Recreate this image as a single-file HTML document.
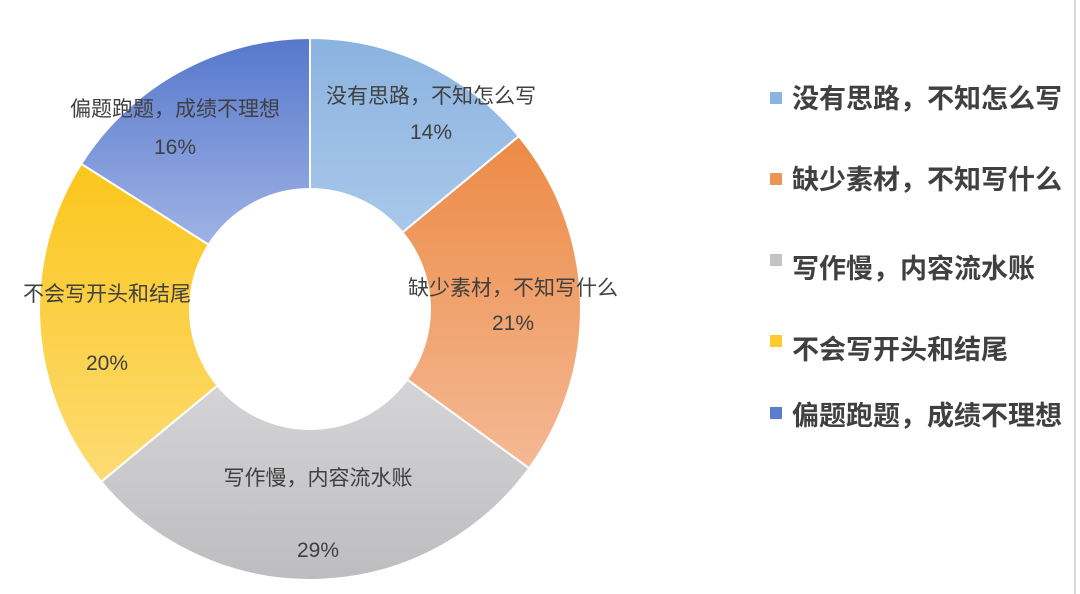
<!DOCTYPE html>
<html><head><meta charset="utf-8"><style>
body{margin:0;background:#fff;}
svg{display:block;}
text{font-family:"Liberation Sans","Noto Sans CJK SC",sans-serif;}
</style></head><body>
<svg width="1080" height="594" viewBox="0 0 1080 594">
<defs>
<linearGradient id="g1" x1="0" y1="0" x2="0" y2="1"><stop offset="0" stop-color="#8bb3e0"/><stop offset="1" stop-color="#a9c8ea"/></linearGradient>
<linearGradient id="g2" x1="0" y1="0" x2="0" y2="1"><stop offset="0" stop-color="#ec8a45"/><stop offset="1" stop-color="#f4b994"/></linearGradient>
<linearGradient id="g3" x1="0" y1="0" x2="0" y2="1"><stop offset="0" stop-color="#d5d5d7"/><stop offset="1" stop-color="#bdbdbf"/></linearGradient>
<linearGradient id="g4" x1="0" y1="0" x2="0" y2="1"><stop offset="0" stop-color="#fbc61c"/><stop offset="1" stop-color="#fcdb72"/></linearGradient>
<linearGradient id="g5" x1="0" y1="0" x2="0" y2="1"><stop offset="0" stop-color="#5677cc"/><stop offset="1" stop-color="#9fb3e4"/></linearGradient>
</defs>
<g stroke="#fff" stroke-width="2">
<path d="M310,38 A271,271 0 0 1 518.8,136.3 L402.5,232.5 A120,120 0 0 0 310,189 Z" fill="url(#g1)"/>
<path d="M518.8,136.3 A271,271 0 0 1 529.2,468.3 L407.1,379.5 A120,120 0 0 0 402.5,232.5 Z" fill="url(#g2)"/>
<path d="M529.2,468.3 A271,271 0 0 1 101.2,481.7 L217.5,385.5 A120,120 0 0 0 407.1,379.5 Z" fill="url(#g3)"/>
<path d="M101.2,481.7 A271,271 0 0 1 81.2,163.8 L208.7,244.7 A120,120 0 0 0 217.5,385.5 Z" fill="url(#g4)"/>
<path d="M81.2,163.8 A271,271 0 0 1 310,38 L310,189 A120,120 0 0 0 208.7,244.7 Z" fill="url(#g5)"/>
</g>
<g font-size="21" fill="#404040" text-anchor="middle">
<text x="431" y="103">没有思路，不知怎么写</text><text x="431" y="139">14%</text>
<text x="513" y="295">缺少素材，不知写什么</text><text x="513" y="330">21%</text>
<text x="318" y="485">写作慢，内容流水账</text><text x="318" y="557">29%</text>
<text x="107" y="301">不会写开头和结尾</text><text x="107" y="370">20%</text>
<text x="175" y="116">偏题跑题，成绩不理想</text><text x="175" y="154">16%</text>
</g>
<rect x="770" y="92" width="12" height="12" fill="#8bb3e0"/>
<rect x="770" y="173" width="12" height="12" fill="#ef9258"/>
<rect x="770" y="254" width="12" height="12" fill="#c4c4c6"/>
<rect x="770" y="335" width="12" height="12" fill="#fbcb30"/>
<rect x="770" y="407" width="12" height="12" fill="#5c7ccd"/>
<g font-size="27" font-weight="bold" fill="#404040">
<text x="792" y="108">没有思路，不知怎么写</text>
<text x="792" y="189">缺少素材，不知写什么</text>
<text x="792" y="278">写作慢，内容流水账</text>
<text x="792" y="359">不会写开头和结尾</text>
<text x="792" y="425">偏题跑题，成绩不理想</text>
</g>
<line x1="1075" y1="0" x2="1075" y2="594" stroke="#d8d8d8" stroke-width="2"/>
</svg>
</body></html>
